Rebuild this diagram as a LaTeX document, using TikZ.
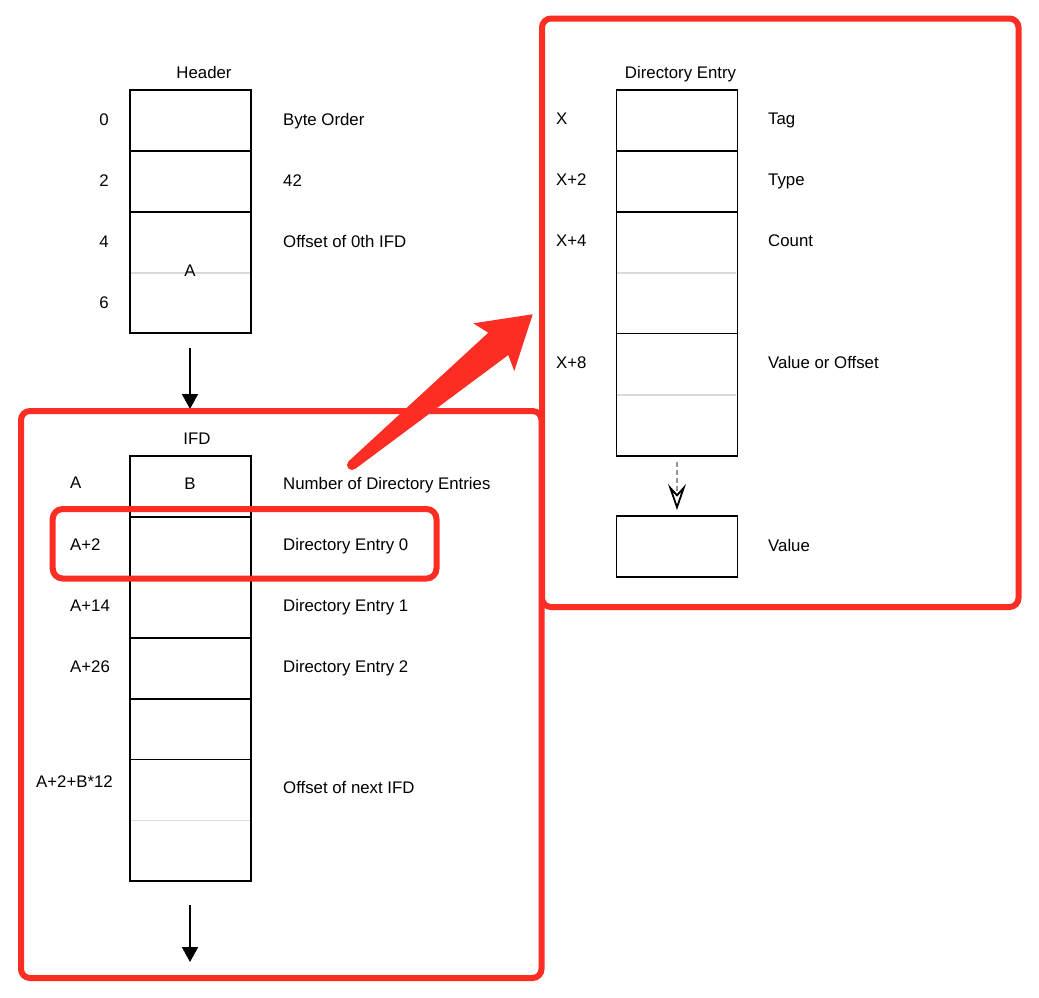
\documentclass[tikz,border=0pt]{standalone}
\usepackage{fontspec}
\setmainfont{Liberation Sans}
\usetikzlibrary{arrows.meta}
\definecolor{redm}{RGB}{252,45,34}
\definecolor{greyl}{RGB}{218,218,218}
\definecolor{dashg}{RGB}{150,150,150}
\newcommand\lblfont{\fontsize{16.8}{20}\selectfont}
\begin{document}
\begin{tikzpicture}[x=1pt,y=-1pt,
  lbl/.style={anchor=base west, inner sep=0pt, font=\lblfont},
  lblc/.style={anchor=base, inner sep=0pt, font=\lblfont},
  box/.style={draw=black, line width=1.6pt, inner sep=0pt, minimum width=121pt},
  rowline/.style={draw=black, line width=1.6pt},
  gline/.style={draw=greyl, line width=1.6pt},
  frame/.style={draw=redm, line width=6pt, rounded corners=9pt},
  blk/.style={-{Triangle[length=15pt,width=16pt]}, line width=1.6pt},
  dasharrow/.style={draw=dashg, line width=1.4pt, dash pattern=on 5pt off 3pt,
     -{Stealth[length=26pt,width=18pt,inset=10pt,open,color=black,line width=1.8pt]}}
]
\useasboundingbox (0,0) rectangle (1039,997);
\fill[white] (0,0) rectangle (1039,997);

% ---------- Header ----------
\node[lblc] (hdrT) at (204,78) {Header};
\draw[gline] (131,273) -- (250,273);
\node[box, minimum height=243pt] (hdr) at (190.5,211.5) {};
\draw[rowline] (130,151) -- (251,151);
\draw[rowline] (130,212) -- (251,212);
\node[lblc] (hA) at (190,276) {A};
\node[lblc] (h0) at (104,125) {0};
\node[lblc] (h2) at (104,186) {2};
\node[lblc] (h4) at (104,247) {4};
\node[lblc] (h6) at (104,308) {6};
\node[lbl] (hBO) at (283,125) {Byte Order};
\node[lbl] (h42) at (283,186) {42};
\node[lbl] (hOff) at (283,247) {Offset of 0th IFD};

\coordinate (a1s) at (190,348);
\coordinate (a1e) at (190,409);
\draw[blk] (a1s) -- (a1e);

% ---------- IFD ----------
\node[lblc] (ifdT) at (197,444) {IFD};
\draw[gline] (131,820.3) -- (250,820.3);
\node[box, minimum height=425pt] (ifd) at (190.5,668.5) {};
\foreach \yy in {516.7,577.4,638.1,698.9,759.6}
  \draw[rowline] (130,\yy) -- (251,\yy);
\node[lblc] (iB) at (190,489) {B};
\node[lbl] (iA) at (70,488.5) {A};
\node[lbl] (iA2) at (70,550) {A+2};
\node[lbl] (iA14) at (70,611) {A+14};
\node[lbl] (iA26) at (70,672) {A+26};
\node[lbl] (iAn) at (36,787) {A+2+B*12};
\node[lbl] (iNum) at (283,489) {Number of Directory Entries};
\node[lbl] (iE0) at (283,550.5) {Directory Entry 0};
\node[lbl] (iE1) at (283,611) {Directory Entry 1};
\node[lbl] (iE2) at (283,672) {Directory Entry 2};
\node[lbl] (iNext) at (283,793) {Offset of next IFD};

\coordinate (a2s) at (190,905);
\coordinate (a2e) at (190,962);
\draw[blk] (a2s) -- (a2e);

% ---------- Directory Entry ----------
\node[lblc] (deT) at (680.5,78) {Directory Entry};
\draw[gline] (617,273) -- (736,273);
\draw[gline] (617,395) -- (736,395);
\node[box, minimum height=366pt] (de) at (677,273) {};
\draw[rowline] (616,151) -- (738,151);
\draw[rowline] (616,212) -- (738,212);
\draw[rowline] (616,333.5) -- (738,333.5);
\node[lbl] (dX) at (556,124) {X};
\node[lbl] (dX2) at (556,185) {X+2};
\node[lbl] (dX4) at (556,246) {X+4};
\node[lbl] (dX8) at (556,368) {X+8};
\node[lbl] (dTag) at (768,124) {Tag};
\node[lbl] (dType) at (768,185) {Type};
\node[lbl] (dCount) at (768,246) {Count};
\node[lbl] (dVal) at (768,368) {Value or Offset};

\node[box, minimum height=61pt] (val) at (677,546.5) {};
\node[lbl] (vVal) at (768,551) {Value};

\coordinate (a3s) at (677,462);
\coordinate (a3e) at (677,510);
\draw[dasharrow] (a3s) -- (a3e);

% ---------- red frames ----------
\draw[frame] (21,411) rectangle (541.5,978);
\draw[frame] (542,18.5) rectangle (1018.5,607);
\draw[frame, rounded corners=10pt] (52.7,509) rectangle (436.5,578.5);

% ---------- big red arrow ----------
\fill[redm] (348.7,461.2) -- (488.3,332.7) -- (473.3,323.3) -- (532.7,314.3)
  -- (514.3,371) -- (508.3,355) -- (355.3,468.8) -- cycle;
\fill[redm] (352,465) circle[radius=5pt];
\end{tikzpicture}
\end{document}
